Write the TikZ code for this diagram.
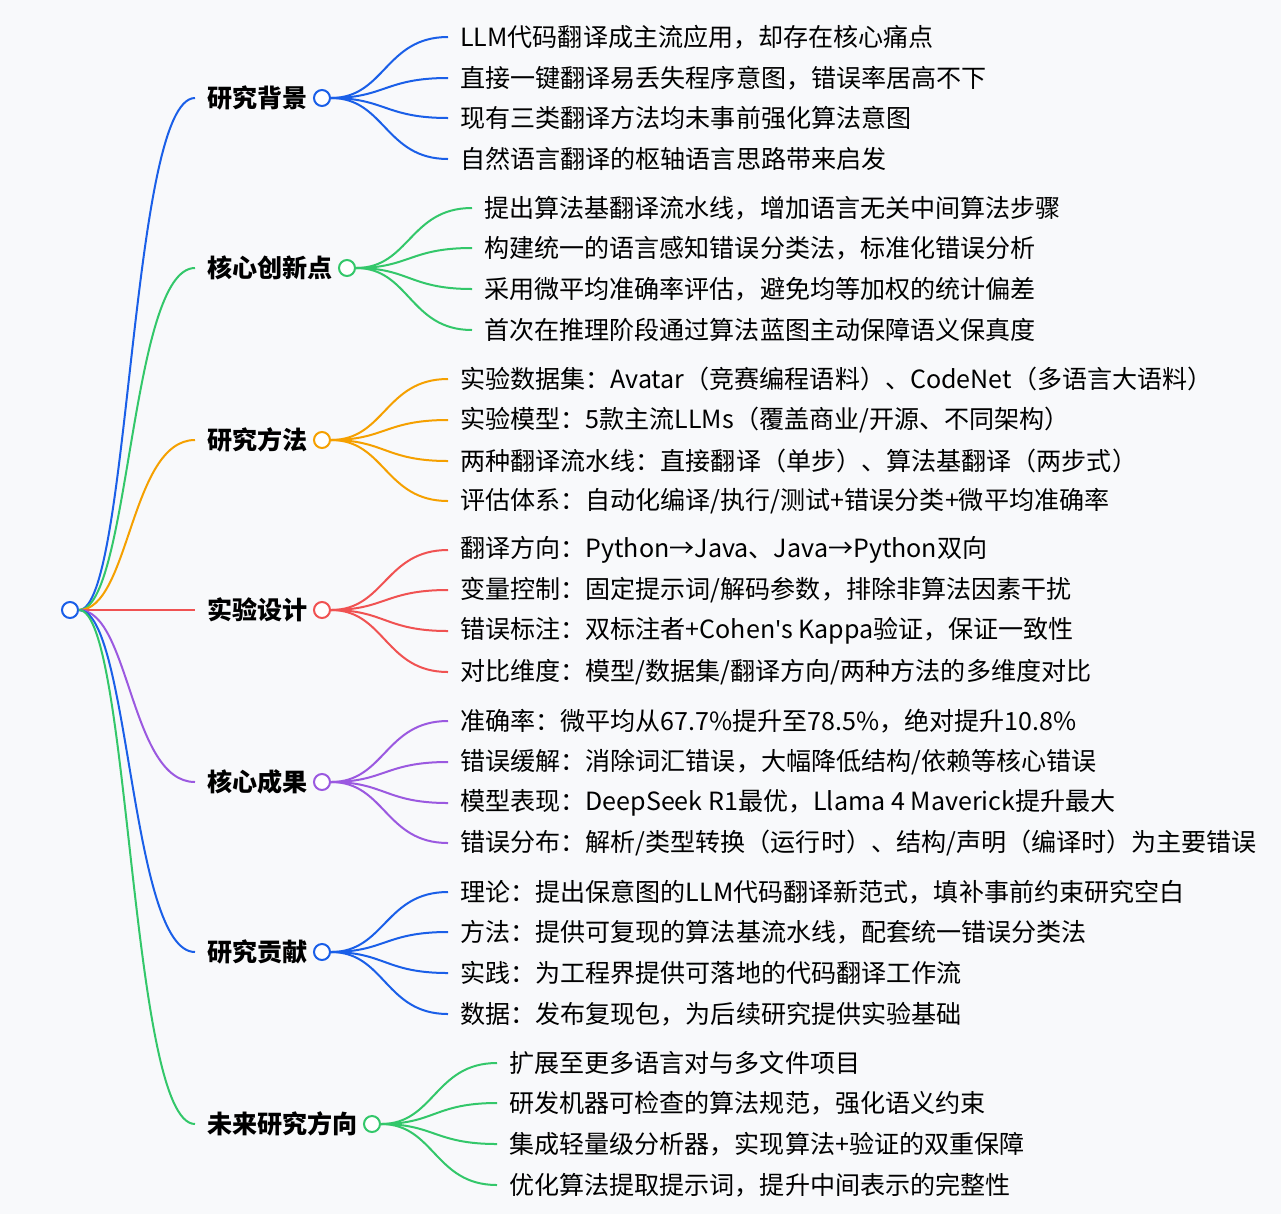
\documentclass[tikz,border=0pt]{standalone}
\usepackage{fontspec}
\setmainfont{Noto Sans CJK SC}
\newfontfamily\latinq{Noto Sans}
\definecolor{cb}{HTML}{1A5FE8}
\definecolor{cg}{HTML}{33C76A}
\definecolor{co}{HTML}{F5A000}
\definecolor{cr}{HTML}{F05252}
\definecolor{cp}{HTML}{9B59E0}
\definecolor{bgc}{HTML}{F8F9FB}
\begin{document}
\begin{tikzpicture}[x=0.75pt,y=-0.75pt,
  dot/.style={circle,draw,line width=1.5pt,fill=white,minimum size=12pt,inner sep=0pt},
  cat/.style={anchor=east,font=\bfseries\fontsize{18.8}{20}\selectfont,inner sep=0pt},
  leaf/.style={anchor=west,font=\fontsize{18.8}{20}\selectfont,inner sep=0pt},
  br/.style={line width=1.5pt}]
\fill[bgc] (0,0) rectangle (1281,1214);
\useasboundingbox (0,0) rectangle (1281,1214);
\node[dot,draw=cb] (root) at (70,610) {};
\foreach \id/\c/\y/\cx/\lx/\ya/\yb/\yc/\yd/\name/\ta/\tb/\tc/\td in {
 a/cb/98/322/448/37/78/118/159/研究背景/LLM代码翻译成主流应用，却存在核心痛点/直接一键翻译易丢失程序意图，错误率居高不下/现有三类翻译方法均未事前强化算法意图/自然语言翻译的枢轴语言思路带来启发,
 b/cg/268/347/472/208/248/289/330/核心创新点/提出算法基翻译流水线，增加语言无关中间算法步骤/构建统一的语言感知错误分类法，标准化错误分析/采用微平均准确率评估，避免均等加权的统计偏差/首次在推理阶段通过算法蓝图主动保障语义保真度,
 c/co/440/322/448/379/420/461/501/研究方法/实验数据集：Avatar（竞赛编程语料）、CodeNet（多语言大语料）/实验模型：5款主流LLMs（覆盖商业{/}开源、不同架构）/两种翻译流水线：直接翻译（单步）、算法基翻译（两步式）/评估体系：自动化编译{/}执行{/}测试+错误分类+微平均准确率,
 d/cr/610/322/448/550/590/631/672/实验设计/翻译方向：Python→Java、Java→Python双向/变量控制：固定提示词{/}解码参数，排除非算法因素干扰/错误标注：双标注者+Cohen{\latinq\char39}s Kappa验证，保证一致性/对比维度：模型{/}数据集{/}翻译方向{/}两种方法的多维度对比,
 e/cp/782/322/448/721/762/803/843/核心成果/准确率：微平均从67.7\%提升至78.5\%，绝对提升10.8\%/错误缓解：消除词汇错误，大幅降低结构{/}依赖等核心错误/模型表现：DeepSeek R1最优，Llama 4 Maverick提升最大/错误分布：解析{/}类型转换（运行时）、结构{/}声明（编译时）为主要错误,
 f/cb/952/322/448/892/932/973/1014/研究贡献/理论：提出保意图的LLM代码翻译新范式，填补事前约束研究空白/方法：提供可复现的算法基流水线，配套统一错误分类法/实践：为工程界提供可落地的代码翻译工作流/数据：发布复现包，为后续研究提供实验基础,
 g/cg/1124/372/497/1063/1103/1144/1185/未来研究方向/扩展至更多语言对与多文件项目/研发机器可检查的算法规范，强化语义约束/集成轻量级分析器，实现算法+验证的双重保障/优化算法提取提示词，提升中间表示的完整性}
{
  \coordinate (\id in) at (195,\y);
  \draw[br,draw=\c] (root.east) .. controls (130,610) and (130,\y) .. (\id in);
  \node[dot,draw=\c] (\id c) at (\cx,\y) {};
  \node[cat] (\id t) at (\cx-14,\y) {\name};
  \foreach \k/\yy/\tt in {1/\ya/\ta,2/\yb/\tb,3/\yc/\tc,4/\yd/\td}{
    \coordinate (\id l\k) at (\lx,\yy);
    \draw[br,draw=\c] (\id c.east) .. controls ({(\cx+\lx)/2},\y) and ({(\cx+\lx)/2},\yy) .. (\id l\k);
    \node[leaf] (\id n\k) at (\lx+12,\yy) {\tt};
  }
}
\end{tikzpicture}
\end{document}
